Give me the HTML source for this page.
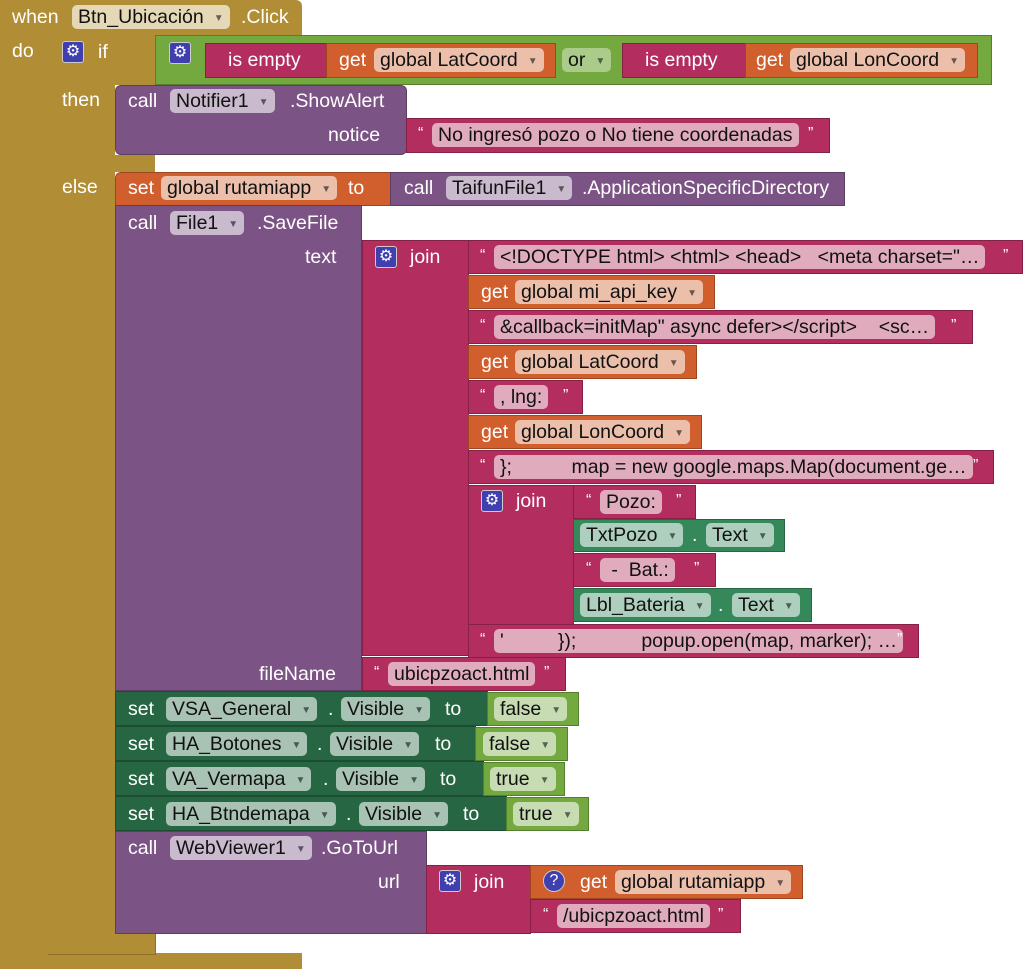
<!DOCTYPE html>
<html><head><meta charset="utf-8"><style>
*{margin:0;padding:0;box-sizing:border-box}
body{width:1023px;height:969px;background:#fff;position:relative;overflow:hidden;font-family:"Liberation Sans",sans-serif;font-size:19.5px;color:#fff}
div,span{position:absolute}
.g{background:#b18e35}
.lg{background:#73a93f}
.m{background:#b32d5e}
.o{background:#d05f2d}
.p{background:#7c5385}
.d{background:#266643}
.b{border:1px solid rgba(0,0,0,.25)}
.t{white-space:nowrap;line-height:20px}
.f{background:rgba(255,255,255,.6);color:#111;border-radius:5px;height:24px;line-height:24px;padding:0 6px;white-space:nowrap}
.f i{font-style:normal;font-size:10px;margin-left:10px;color:inherit;opacity:.6;vertical-align:2px}
.gear{width:22px;height:22px;background:#3f3fb0;border:1px solid #ccc;border-radius:3px;color:#fff;text-align:center;font-size:16px;line-height:20px}
.q{font-size:16px}
</style></head><body>
<div class="g" style="left:0;top:0;width:302px;height:35px;border-radius:6px 6px 0 0"></div>
<div class="g" style="left:0;top:0;width:49px;height:969px"></div>
<div class="g" style="left:0;top:953px;width:302px;height:16px"></div>
<span class="t" style="left:12px;top:7px">when</span>
<span class="f" style="left:72px;top:5px;background:#e5d8b7">Btn_Ubicación<i>▼</i></span>
<span class="t" style="left:241px;top:7px">.Click</span>
<span class="t" style="left:12px;top:41px">do</span>
<div class="g" style="left:48px;top:35px;width:108px;height:50px;border-radius:6px 0 0 0"></div>
<div class="g" style="left:48px;top:35px;width:67px;height:910px"></div>
<div class="g" style="left:48px;top:155px;width:107px;height:17px"></div>
<div class="g" style="left:48px;top:933px;width:108px;height:22px;border-bottom:1px solid rgba(0,0,0,.2);border-right:1px solid rgba(0,0,0,.2)"></div>
<div class="gear" style="left:62px;top:41px">⚙</div>
<span class="t" style="left:98px;top:42px">if</span>
<span class="t" style="left:62px;top:90px">then</span>
<span class="t" style="left:62px;top:177px">else</span>
<div class="lg b" style="left:155px;top:35px;width:837px;height:50px"></div>
<div class="gear" style="left:169px;top:42px">⚙</div>
<div class="m b" style="left:205px;top:43px;width:122px;height:35px"></div>
<span class="t" style="left:228px;top:50px">is empty</span>
<div class="o b" style="left:326px;top:43px;width:230px;height:35px"></div>
<span class="t" style="left:339px;top:50px">get</span>
<span class="f" style="left:374px;top:48px">global LatCoord<i>▼</i></span>
<span class="f" style="left:562px;top:48px;background:rgba(255,255,255,.4)">or<i>▼</i></span>
<div class="m b" style="left:622px;top:43px;width:124px;height:35px"></div>
<span class="t" style="left:645px;top:50px">is empty</span>
<div class="o b" style="left:745px;top:43px;width:233px;height:35px"></div>
<span class="t" style="left:756px;top:50px">get</span>
<span class="f" style="left:790px;top:48px">global LonCoord<i>▼</i></span>
<div class="p b" style="left:115px;top:85px;width:292px;height:70px;border-radius:6px"></div>
<span class="t" style="left:128px;top:91px">call</span>
<span class="f" style="left:170px;top:89px">Notifier1<i>▼</i></span>
<span class="t" style="left:290px;top:91px">.ShowAlert</span>
<span class="t" style="left:328px;top:125px">notice</span>
<div class="m b" style="left:406px;top:118px;width:424px;height:35px"></div>
<span class="t q" style="left:418px;top:124px">“</span>
<span class="f" style="left:432px;top:123px">No ingresó pozo o No tiene coordenadas</span>
<span class="t q" style="left:808px;top:124px">”</span>
<div class="o b" style="left:115px;top:172px;width:276px;height:34px;border-radius:6px 0 0 0"></div>
<span class="t" style="left:128px;top:178px">set</span>
<span class="f" style="left:161px;top:176px">global rutamiapp<i>▼</i></span>
<span class="t" style="left:348px;top:178px">to</span>
<div class="p b" style="left:390px;top:172px;width:455px;height:34px"></div>
<span class="t" style="left:404px;top:178px">call</span>
<span class="f" style="left:446px;top:176px">TaifunFile1<i>▼</i></span>
<span class="t" style="left:582px;top:178px">.ApplicationSpecificDirectory</span>
<div class="p b" style="left:115px;top:205px;width:247px;height:486px"></div>
<span class="t" style="left:128px;top:213px">call</span>
<span class="f" style="left:170px;top:211px">File1<i>▼</i></span>
<span class="t" style="left:257px;top:213px">.SaveFile</span>
<span class="t" style="left:305px;top:247px">text</span>
<span class="t" style="left:259px;top:664px">fileName</span>
<div class="m b" style="left:362px;top:240px;width:107px;height:416px"></div>
<div class="gear" style="left:375px;top:246px">⚙</div>
<span class="t" style="left:410px;top:247px">join</span>
<div class="m b" style="left:468px;top:240px;width:555px;height:34px"></div>
<span class="t q" style="left:480px;top:246px">“</span><span class="f" style="left:494px;top:245px">&lt;!DOCTYPE html&gt; &lt;html&gt; &lt;head&gt;&nbsp;&nbsp;&nbsp;&lt;meta charset="…</span><span class="t q" style="left:1003px;top:246px">”</span>
<div class="o b" style="left:468px;top:275px;width:247px;height:34px"></div>
<span class="t" style="left:481px;top:282px">get</span><span class="f" style="left:515px;top:280px">global mi_api_key<i>▼</i></span>
<div class="m b" style="left:468px;top:310px;width:505px;height:34px"></div>
<span class="t q" style="left:480px;top:316px">“</span><span class="f" style="left:494px;top:315px">&amp;callback=initMap" async defer&gt;&lt;/script&gt;&nbsp;&nbsp;&nbsp;&nbsp;&lt;sc…</span><span class="t q" style="left:951px;top:316px">”</span>
<div class="o b" style="left:468px;top:345px;width:229px;height:34px"></div>
<span class="t" style="left:481px;top:352px">get</span><span class="f" style="left:515px;top:350px">global LatCoord<i>▼</i></span>
<div class="m b" style="left:468px;top:380px;width:115px;height:34px"></div>
<span class="t q" style="left:480px;top:386px">“</span><span class="f" style="left:494px;top:385px">, lng:</span><span class="t q" style="left:563px;top:386px">”</span>
<div class="o b" style="left:468px;top:415px;width:234px;height:34px"></div>
<span class="t" style="left:481px;top:422px">get</span><span class="f" style="left:515px;top:420px">global LonCoord<i>▼</i></span>
<div class="m b" style="left:468px;top:450px;width:526px;height:34px"></div>
<span class="t q" style="left:480px;top:456px">“</span><span class="f" style="left:494px;top:455px">};&nbsp;&nbsp;&nbsp;&nbsp;&nbsp;&nbsp;&nbsp;&nbsp;&nbsp;&nbsp;&nbsp;map = new google.maps.Map(document.ge…</span><span class="t q" style="left:973px;top:456px">”</span>
<div class="m b" style="left:468px;top:485px;width:106px;height:140px"></div>
<div class="gear" style="left:481px;top:490px">⚙</div>
<span class="t" style="left:516px;top:491px">join</span>
<div class="m b" style="left:573px;top:485px;width:123px;height:34px"></div>
<span class="t q" style="left:586px;top:491px">“</span><span class="f" style="left:600px;top:490px">Pozo:</span><span class="t q" style="left:676px;top:491px">”</span>
<div class="d b" style="left:573px;top:519px;width:212px;height:33px;background:#35885a"></div>
<span class="f" style="left:580px;top:523px">TxtPozo<i>▼</i></span><span class="t" style="left:692px;top:525px">.</span><span class="f" style="left:706px;top:523px">Text<i>▼</i></span>
<div class="m b" style="left:573px;top:553px;width:143px;height:34px"></div>
<span class="t q" style="left:586px;top:559px">“</span><span class="f" style="left:600px;top:558px">&nbsp;-&nbsp;&nbsp;Bat.:</span><span class="t q" style="left:694px;top:559px">”</span>
<div class="d b" style="left:573px;top:588px;width:239px;height:34px;background:#35885a"></div>
<span class="f" style="left:580px;top:593px">Lbl_Bateria<i>▼</i></span><span class="t" style="left:718px;top:595px">.</span><span class="f" style="left:732px;top:593px">Text<i>▼</i></span>
<div class="m b" style="left:468px;top:624px;width:451px;height:34px"></div>
<span class="t q" style="left:480px;top:630px">“</span><span class="f" style="left:494px;top:629px">'&nbsp;&nbsp;&nbsp;&nbsp;&nbsp;&nbsp;&nbsp;&nbsp;&nbsp;&nbsp;});&nbsp;&nbsp;&nbsp;&nbsp;&nbsp;&nbsp;&nbsp;&nbsp;&nbsp;&nbsp;&nbsp;&nbsp;popup.open(map, marker); …</span><span class="t q" style="left:897px;top:630px">”</span>
<div class="m b" style="left:362px;top:657px;width:204px;height:34px"></div>
<span class="t q" style="left:374px;top:663px">“</span><span class="f" style="left:388px;top:662px">ubicpzoact.html</span><span class="t q" style="left:544px;top:663px">”</span>
<div class="d b" style="left:115px;top:691px;width:373px;height:35px"></div>
<span class="t" style="left:128px;top:699px">set</span><span class="f" style="left:166px;top:697px">VSA_General<i>▼</i></span><span class="t" style="left:328px;top:699px">.</span><span class="f" style="left:341px;top:697px">Visible<i>▼</i></span><span class="t" style="left:445px;top:699px">to</span>
<div class="lg b" style="left:487px;top:692px;width:92px;height:34px"></div><span class="f" style="left:494px;top:697px">false<i>▼</i></span>
<div class="d b" style="left:115px;top:726px;width:361px;height:35px"></div>
<span class="t" style="left:128px;top:734px">set</span><span class="f" style="left:166px;top:732px">HA_Botones<i>▼</i></span><span class="t" style="left:317px;top:734px">.</span><span class="f" style="left:330px;top:732px">Visible<i>▼</i></span><span class="t" style="left:435px;top:734px">to</span>
<div class="lg b" style="left:475px;top:727px;width:93px;height:34px"></div><span class="f" style="left:483px;top:732px">false<i>▼</i></span>
<div class="d b" style="left:115px;top:761px;width:369px;height:35px"></div>
<span class="t" style="left:128px;top:769px">set</span><span class="f" style="left:166px;top:767px">VA_Vermapa<i>▼</i></span><span class="t" style="left:323px;top:769px">.</span><span class="f" style="left:336px;top:767px">Visible<i>▼</i></span><span class="t" style="left:440px;top:769px">to</span>
<div class="lg b" style="left:483px;top:762px;width:82px;height:34px"></div><span class="f" style="left:490px;top:767px">true<i>▼</i></span>
<div class="d b" style="left:115px;top:796px;width:392px;height:35px"></div>
<span class="t" style="left:128px;top:804px">set</span><span class="f" style="left:166px;top:802px">HA_Btndemapa<i>▼</i></span><span class="t" style="left:346px;top:804px">.</span><span class="f" style="left:359px;top:802px">Visible<i>▼</i></span><span class="t" style="left:463px;top:804px">to</span>
<div class="lg b" style="left:506px;top:797px;width:83px;height:34px"></div><span class="f" style="left:513px;top:802px">true<i>▼</i></span>
<div class="p b" style="left:115px;top:831px;width:312px;height:103px"></div>
<span class="t" style="left:128px;top:838px">call</span><span class="f" style="left:170px;top:836px">WebViewer1<i>▼</i></span><span class="t" style="left:321px;top:838px">.GoToUrl</span>
<span class="t" style="left:378px;top:872px">url</span>
<div class="m b" style="left:426px;top:865px;width:105px;height:69px"></div>
<div class="gear" style="left:439px;top:870px">⚙</div>
<span class="t" style="left:474px;top:872px">join</span>
<div class="o b" style="left:530px;top:865px;width:273px;height:34px"></div>
<div class="gear" style="left:543px;top:870px;border-radius:11px">?</div>
<span class="t" style="left:580px;top:872px">get</span><span class="f" style="left:615px;top:870px">global rutamiapp<i>▼</i></span>
<div class="m b" style="left:530px;top:899px;width:211px;height:34px"></div>
<span class="t q" style="left:543px;top:905px">“</span><span class="f" style="left:557px;top:904px">/ubicpzoact.html</span><span class="t q" style="left:718px;top:905px">”</span>
</body></html>
